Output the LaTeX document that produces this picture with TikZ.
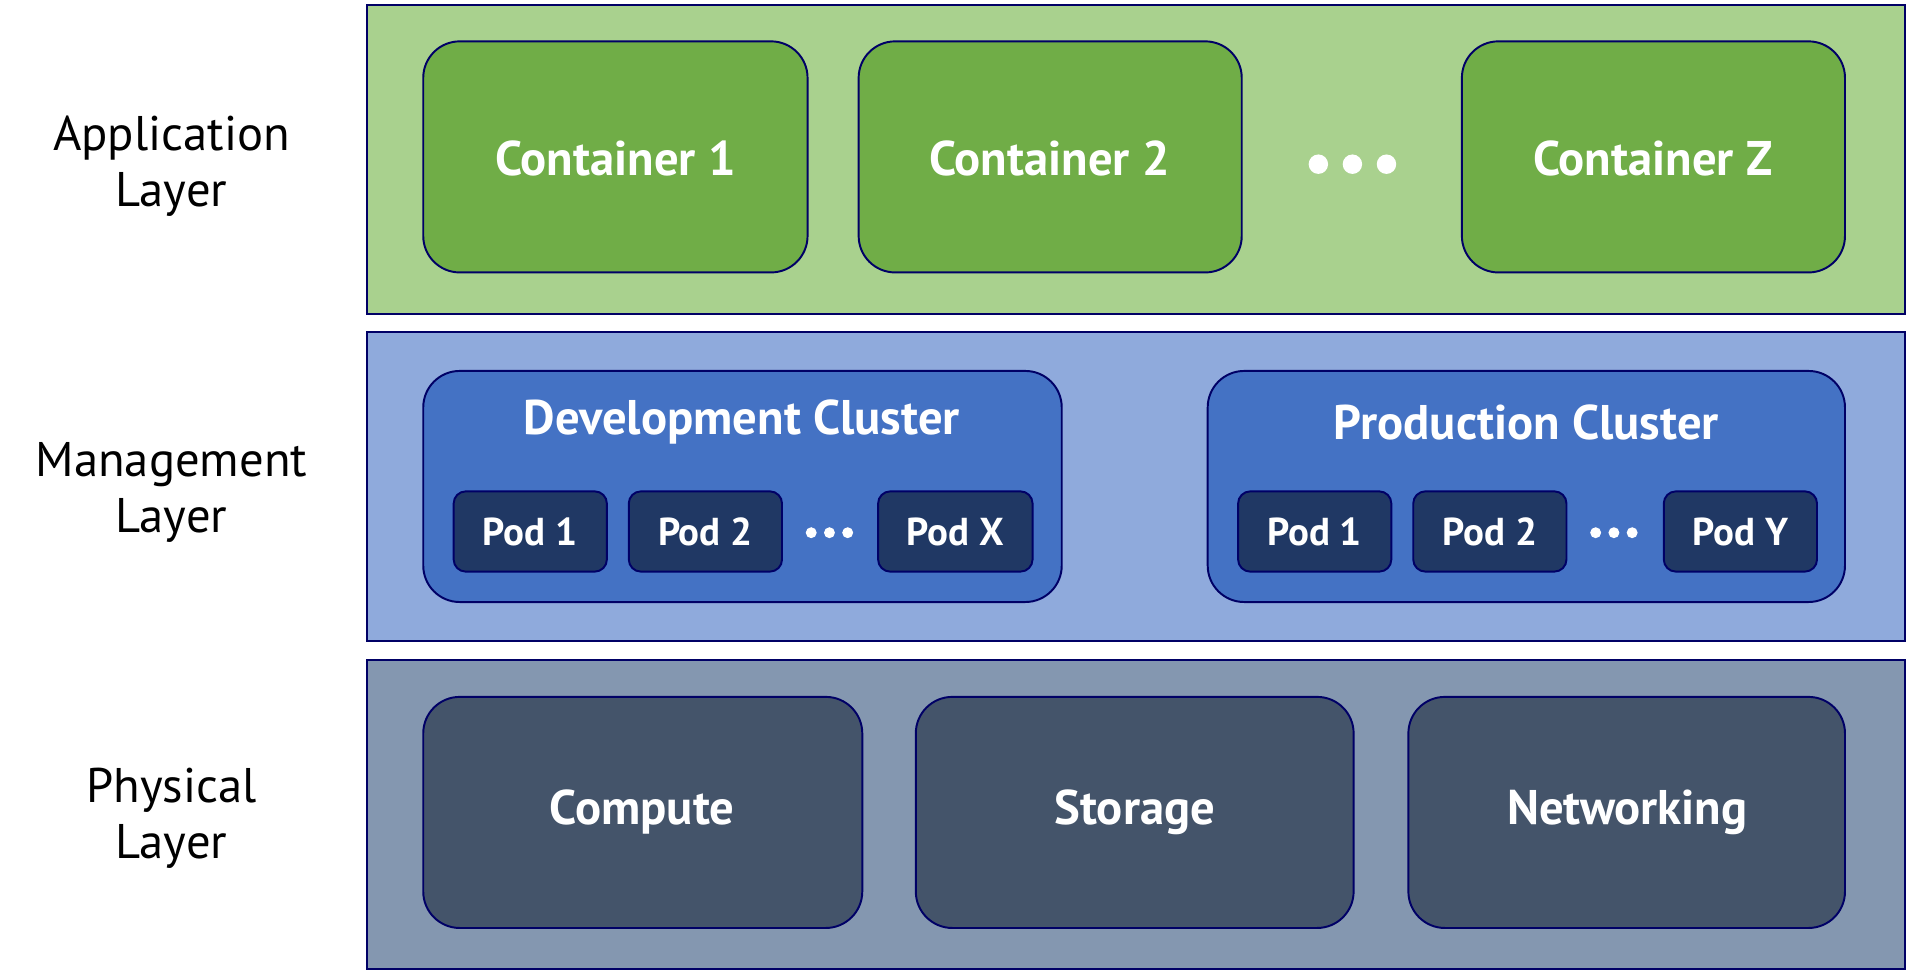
\documentclass[tikz,border=0pt]{standalone}
\usepackage{fontspec}
\setmainfont{PT Sans}
\begin{document}
\begin{tikzpicture}[x=0.5pt,y=-0.5pt,
  band/.style={draw=blue!40!black,line width=0.8pt},
  box/.style={draw=blue!40!black,line width=0.8pt,rounded corners=15pt},
  pod/.style={draw=blue!40!black,line width=0.8pt,rounded corners=5pt,fill=pod},
  big/.style={text=white,font=\bfseries\fontsize{20}{22}\selectfont},
  mid/.style={text=white,font=\bfseries\fontsize{20}{22}\selectfont},
  sm/.style={text=white,font=\bfseries\fontsize{16}{18}\selectfont},
  lab/.style={align=center,font=\fontsize{20}{23}\selectfont},
  dot/.style={circle,fill=white,inner sep=0pt}]
\definecolor{appbg}{HTML}{A9D18E}\definecolor{appfg}{HTML}{70AD47}
\definecolor{mgbg}{HTML}{8FAADC}\definecolor{mgfg}{HTML}{4472C4}
\definecolor{pod}{HTML}{203864}
\definecolor{phbg}{HTML}{8497B0}\definecolor{phfg}{HTML}{44546A}
\useasboundingbox (0,0) rectangle (1568,798);
% bands
\draw[band,fill=appbg] (302,4) rectangle (1566,258);
\draw[band,fill=mgbg] (302,273) rectangle (1566,527);
\draw[band,fill=phbg] (302,543) rectangle (1566,797);
% labels
\node[lab] (la) at (141,137) {Application\\Layer};
\node[lab] (lm) at (141,405) {Management\\Layer};
\node[lab] (lp) at (141,673) {Physical\\Layer};
% containers
\draw[box,fill=appfg] (348,34) rectangle (664,224);
\node[big] (c1) at (506,130) {Container 1};
\draw[box,fill=appfg] (706,34) rectangle (1021,224);
\node[big] (c2) at (863,130) {Container 2};
\draw[box,fill=appfg] (1202,34) rectangle (1517,224);
\node[big] (cz) at (1359,130) {Container Z};
\foreach \x [count=\i] in {1084,1112,1140} \node[dot,minimum size=8pt] (cd\i) at (\x,135) {};
% clusters
\draw[box,fill=mgfg] (348,305) rectangle (873,495);
\node[mid] (dev) at (610,347) {Development Cluster};
\draw[box,fill=mgfg] (993,305) rectangle (1517,495);
\node[mid] (prod) at (1255,347) {Production Cluster};
\foreach \a/\b/\t/\n in {373/499/Pod 1/d1,517/643/Pod 2/d2,722/849/Pod X/dx,1018/1144/Pod 1/p1,1162/1288/Pod 2/p2,1368/1494/Pod Y/py}{
  \draw[pod] (\a,404) rectangle (\b,470);
  \node[sm] (\n) at ({(\a+\b)/2},437) {\t};
}
\foreach \x [count=\i] in {667,682,697} \node[dot,minimum size=4.5pt] (dd\i) at (\x,438) {};
\foreach \x [count=\i] in {1312,1327,1342} \node[dot,minimum size=4.5pt] (pd\i) at (\x,438) {};
% physical
\draw[box,fill=phfg] (348,573) rectangle (709,763);
\node[big] (comp) at (528,668) {Compute};
\draw[box,fill=phfg] (753,573) rectangle (1113,763);
\node[big] (stor) at (933,668) {Storage};
\draw[box,fill=phfg] (1158,573) rectangle (1517,763);
\node[big] (net) at (1338,668) {Networking};
\end{tikzpicture}
\end{document}
